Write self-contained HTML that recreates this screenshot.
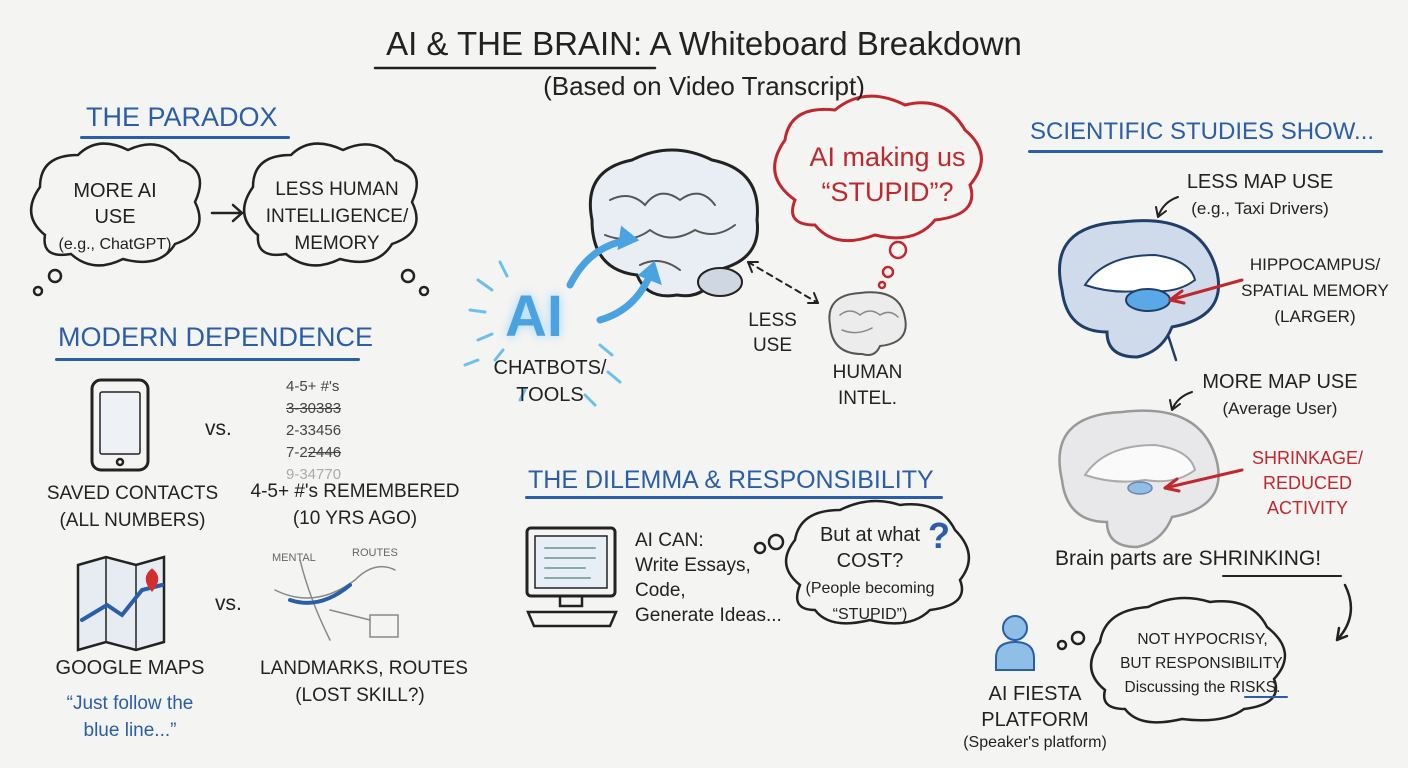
<!DOCTYPE html>
<html><head><meta charset="utf-8"><style>
body{margin:0;width:1408px;height:768px;background:#f4f4f2;overflow:hidden;position:relative;font-family:"Liberation Sans",sans-serif;color:#222}
.t{position:absolute;white-space:nowrap;text-align:center;line-height:1}
.b{color:#2a5ea8}.r{color:#c0282d}
.h{position:absolute;font-size:27px;color:#2a5ea8;white-space:nowrap}
.ul{position:absolute;height:3px;background:#2a5ea8;border-radius:2px}
</style></head><body>
<svg width="1408" height="768" style="position:absolute;left:0;top:0" fill="none" stroke="#222" stroke-width="2.5" stroke-linecap="round">
<line x1="375" y1="68" x2="655" y2="68"/>
<path d="M45 235 q-25 -20 -5 -48 q0 -32 38 -32 q20 -20 50 -5 q32 -15 52 10 q30 10 15 42 q15 30 -20 42 q-15 25 -52 15 q-30 15 -52 -5 q-30 5 -26 -19z"/>
<circle cx="55" cy="276" r="6"/><circle cx="38" cy="291" r="4"/>
<path d="M212 213 h30 m-9 -8 l9 8 l-9 8"/>
<path d="M258 235 q-25 -20 -5 -48 q0 -32 38 -32 q20 -20 52 -5 q32 -15 52 10 q32 10 17 42 q15 30 -20 42 q-15 25 -52 15 q-30 15 -54 -5 q-30 5 -28 -19z"/>
<circle cx="408" cy="276" r="6"/><circle cx="424" cy="291" r="4"/>
<rect x="92" y="380" width="56" height="90" rx="9" stroke-width="3"/>
<rect x="100" y="392" width="40" height="62" rx="2" fill="#eef2f6" stroke-width="1.5"/>
<circle cx="120" cy="462" r="3"/>
<path d="M78 565 l28 -8 l30 8 l28 -8 v85 l-28 8 l-30 -8 l-28 8z" fill="#e7ecf2"/>
<path d="M106 557 v85 M136 565 v85" stroke-width="1.5"/>
<path d="M82 620 l25 -15 l15 10 l20 -25 l20 -5" stroke="#2a5ea8" stroke-width="4"/>
<path d="M152 590 q-10 -12 0 -20 q10 8 0 20z" fill="#d32f2f" stroke="#d32f2f"/>
<path d="M275 590 q40 20 80 -10 q20 -20 40 -10 M300 560 q10 40 30 80 M330 610 l40 10" stroke="#888" stroke-width="1.5"/>
<path d="M290 600 q30 10 60 -15" stroke="#2a5ea8" stroke-width="4"/>
<rect x="370" y="615" width="28" height="22" stroke="#888" stroke-width="1.5"/>
<path d="M592 220 q-10 -50 40 -60 q40 -20 80 0 q50 10 45 60 q5 40 -40 50 q-10 30 -40 25 q-30 5 -40 -20 q-45 -5 -45 -55z" fill="#e9eef4" stroke-width="3"/>
<path d="M610 200 q20 -10 35 5 q15 -20 35 -5 q20 -15 35 5 M605 235 q25 10 45 -5 q20 15 45 0 q20 10 40 -5 M640 265 q20 -10 40 5" stroke="#555" stroke-width="2"/>
<ellipse cx="720" cy="282" rx="22" ry="14" fill="#cfd8e2" stroke-width="2"/>
<path d="M570 285 q20 -40 60 -45" stroke="#4aa3e0" stroke-width="7"/>
<path d="M622 228 l15 12 l-18 8z" fill="#4aa3e0" stroke="#4aa3e0"/>
<path d="M600 320 q35 -10 50 -45" stroke="#4aa3e0" stroke-width="7"/>
<path d="M640 275 l14 -12 l6 20z" fill="#4aa3e0" stroke="#4aa3e0"/>
<g stroke="#6cc0ee" stroke-width="3">
<line x1="470" y1="310" x2="485" y2="312"/><line x1="478" y1="280" x2="492" y2="290"/><line x1="500" y1="262" x2="507" y2="276"/><line x1="478" y1="340" x2="492" y2="334"/><line x1="495" y1="360" x2="503" y2="350"/><line x1="600" y1="345" x2="612" y2="355"/><line x1="608" y1="372" x2="620" y2="382"/><line x1="520" y1="400" x2="525" y2="390"/><line x1="585" y1="395" x2="595" y2="405"/><line x1="465" y1="365" x2="478" y2="360"/>
</g>
<path d="M795 200 q-35 -25 -10 -60 q5 -35 50 -30 q30 -25 70 -5 q40 -10 60 25 q30 25 5 55 q10 30 -35 35 q-20 25 -60 15 q-40 15 -60 -10 q-30 0 -20 -25z" stroke="#c0282d" stroke-width="3"/>
<circle cx="898" cy="250" r="8" stroke="#c0282d"/><circle cx="888" cy="272" r="5" stroke="#c0282d"/><circle cx="882" cy="285" r="3" stroke="#c0282d"/>
<path d="M748 262 L818 303" stroke-dasharray="6 5" stroke-width="2"/>
<path d="M748 262 l4 10 m-4 -10 l10 0 M818 303 l-4 -10 m4 10 l-10 0" stroke-width="2"/>
<path d="M830 325 q-5 -30 30 -32 q40 -5 45 25 q5 25 -25 28 q-5 12 -18 8 q-30 0 -32 -29z" fill="#ececec" stroke="#555" stroke-width="2"/>
<path d="M840 315 q10 -8 20 0 q10 -8 20 0 q10 -6 18 2 M842 330 q15 6 30 -2" stroke="#888" stroke-width="1.5"/>
<rect x="527" y="528" width="88" height="68" rx="4" stroke-width="3"/>
<rect x="535" y="536" width="72" height="52" fill="#e8eef5" stroke-width="1.5"/>
<path d="M545 548 h50 M545 558 h50 M545 568 h40 M545 578 h45" stroke="#8aa" stroke-width="2"/>
<path d="M560 596 v10 h22 v-10 M528 612 h88 l-6 14 h-76z" stroke-width="2.5"/>
<circle cx="760" cy="548" r="5"/><circle cx="776" cy="542" r="7"/>
<path d="M800 585 q-25 -20 -5 -45 q5 -30 45 -30 q30 -15 60 -5 q40 -5 55 25 q25 25 5 50 q10 25 -30 30 q-20 20 -60 10 q-40 10 -55 -10 q-25 0 -15 -25z"/>
<path d="M1062 290 q-15 -65 60 -68 q80 -10 95 50 q10 45 -45 55 q-10 25 -35 30 q-30 0 -30 -25 q-40 0 -45 -42z" fill="#cfdbea" stroke="#1f3f6a" stroke-width="3"/>
<path d="M1085 285 q20 -30 70 -30 q35 5 40 25 q-20 15 -50 10 q-30 5 -60 -5z" fill="#fff" stroke="#1f3f6a" stroke-width="2"/>
<ellipse cx="1148" cy="300" rx="22" ry="11" fill="#5aa9e6" stroke="#1f3f6a" stroke-width="2"/>
<path d="M1168 335 l8 25" stroke="#1f3f6a"/>
<path d="M1242 280 L1170 300" stroke="#c0282d" stroke-width="3"/><path d="M1170 300 l12 -9 m-12 9 l14 3" stroke="#c0282d" stroke-width="3"/>
<path d="M1062 480 q-15 -65 60 -68 q80 -10 95 50 q10 45 -45 55 q-10 25 -35 30 q-30 0 -30 -25 q-40 0 -45 -42z" fill="#e8e8ea" stroke="#999" stroke-width="2.5"/>
<path d="M1085 475 q20 -30 70 -30 q35 5 40 25 q-20 15 -50 10 q-30 5 -60 -5z" fill="#fafafa" stroke="#aaa" stroke-width="2"/>
<ellipse cx="1140" cy="488" rx="12" ry="6" fill="#8fbfe6" stroke="#6b86a6" stroke-width="1.5"/>
<path d="M1242 470 L1165 488" stroke="#c0282d" stroke-width="3"/><path d="M1165 488 l12 -9 m-12 9 l14 3" stroke="#c0282d" stroke-width="3"/>
<path d="M1178 197 q-15 5 -20 20 m0 0 l-2 -10 m2 10 l8 -6" stroke-width="2"/>
<path d="M1192 392 q-15 5 -20 18 m0 0 l-2 -10 m2 10 l8 -6" stroke-width="2"/>
<path d="M1223 576 h118" stroke-width="2"/>
<path d="M1345 585 q15 30 -8 55 m0 0 l2 -12 m-2 12 l10 -4" stroke-width="2.5"/>
<circle cx="1015" cy="628" r="12" fill="#8fbfe6" stroke="#2a5ea8" stroke-width="2"/>
<path d="M996 670 v-12 q0 -16 19 -16 q19 0 19 16 v12z" fill="#8fbfe6" stroke="#2a5ea8" stroke-width="2"/>
<circle cx="1062" cy="645" r="4"/><circle cx="1078" cy="638" r="6"/>
<path d="M1105 690 q-25 -20 -5 -48 q5 -32 48 -35 q30 -15 62 -5 q42 -5 57 25 q32 25 7 52 q10 25 -30 30 q-20 15 -62 10 q-42 10 -57 -10 q-25 0 -20 -19z"/>
<path d="M1245 697 h42" stroke="#2a5ea8" stroke-width="2"/>
</svg>

<div class="t" style="left:0;width:1408px;top:27px;font-size:33px">AI &amp; THE BRAIN: A Whiteboard Breakdown</div>
<div class="t" style="left:0;width:1408px;top:73px;font-size:26px">(Based on Video Transcript)</div>

<div class="h" style="left:86px;top:102px">THE PARADOX</div><div class="ul" style="left:80px;top:136px;width:210px"></div>
<div class="t" style="left:40px;width:150px;top:178px;font-size:20px;line-height:26px">MORE AI<br>USE<br><span style="font-size:16px">(e.g., ChatGPT)</span></div>
<div class="t" style="left:252px;width:170px;top:176px;font-size:19px;line-height:27px">LESS HUMAN<br>INTELLIGENCE/<br>MEMORY</div>

<div class="h" style="left:58px;top:322px">MODERN DEPENDENCE</div><div class="ul" style="left:55px;top:358px;width:305px"></div>
<div class="t" style="left:205px;top:418px;font-size:21px">vs.</div>
<div class="t" style="left:286px;top:376px;font-size:15px;line-height:22px;text-align:left;color:#444">4-5+ #'s<br><s>3-30383</s><br>2-33456<br>7-2<s>2446</s><br><span style="color:#aaa">9-34770</span></div>
<div class="t" style="left:40px;width:185px;top:480px;font-size:19px;line-height:27px">SAVED CONTACTS<br>(ALL NUMBERS)</div>
<div class="t" style="left:240px;width:230px;top:478px;font-size:19px;line-height:27px">4-5+ #'s REMEMBERED<br>(10 YRS AGO)</div>
<div class="t" style="left:215px;top:593px;font-size:21px">vs.</div>
<div class="t" style="left:272px;top:553px;font-size:11px;color:#666">MENTAL</div>
<div class="t" style="left:352px;top:548px;font-size:11px;color:#666">ROUTES</div>
<div class="t" style="left:40px;width:180px;top:658px;font-size:20px">GOOGLE MAPS</div>
<div class="t b" style="left:40px;width:180px;top:690px;font-size:19px;line-height:27px">“Just follow the<br>blue line...”</div>
<div class="t" style="left:260px;width:200px;top:655px;font-size:19px;line-height:27px">LANDMARKS, ROUTES<br>(LOST SKILL?)</div>

<div class="t" style="left:505px;top:288px;font-size:58px;font-weight:bold;color:#4aa3e0;text-shadow:0 0 10px #9fd6f7">AI</div>
<div class="t" style="left:480px;width:140px;top:355px;font-size:20px;line-height:27px">CHATBOTS/<br>TOOLS</div>
<div class="t r" style="left:780px;width:215px;top:140px;font-size:27px;line-height:35px">AI making us<br>“STUPID”?</div>
<div class="t" style="left:745px;width:55px;top:308px;font-size:19px;line-height:25px">LESS<br>USE</div>
<div class="t" style="left:820px;width:95px;top:360px;font-size:19px;line-height:26px">HUMAN<br>INTEL.</div>

<div class="h" style="left:528px;top:466px;font-size:25px">THE DILEMMA &amp; RESPONSIBILITY</div><div class="ul" style="left:525px;top:496px;width:418px"></div>
<div class="t" style="left:635px;top:528px;font-size:19px;line-height:25px;text-align:left">AI CAN:<br>Write Essays,<br>Code,<br>Generate Ideas...</div>
<div class="t" style="left:800px;width:140px;top:522px;font-size:20px;line-height:26px">But at what<br>COST?<br><span style="font-size:16px;line-height:22px">(People becoming<br>“STUPID”)</span></div>
<div class="t b" style="left:928px;top:518px;font-size:36px;font-weight:bold">?</div>

<div class="h" style="left:1030px;top:118px;font-size:24px">SCIENTIFIC STUDIES SHOW...</div><div class="ul" style="left:1028px;top:150px;width:355px"></div>
<div class="t" style="left:1170px;width:180px;top:172px;font-size:20px">LESS MAP USE</div>
<div class="t" style="left:1170px;width:180px;top:200px;font-size:17px">(e.g., Taxi Drivers)</div>
<div class="t" style="left:1235px;width:160px;top:252px;font-size:17px;line-height:26px">HIPPOCAMPUS/<br>SPATIAL MEMORY<br>(LARGER)</div>
<div class="t" style="left:1190px;width:180px;top:372px;font-size:20px">MORE MAP USE</div>
<div class="t" style="left:1190px;width:180px;top:400px;font-size:17px">(Average User)</div>
<div class="t r" style="left:1240px;width:135px;top:446px;font-size:18px;line-height:25px">SHRINKAGE/<br>REDUCED<br>ACTIVITY</div>
<div class="t" style="left:1055px;top:548px;font-size:21px">Brain parts are SHRINKING!</div>
<div class="t" style="left:1110px;width:185px;top:628px;font-size:15.5px;line-height:24px">NOT HYPOCRISY,<br>BUT RESPONSIBILITY.<br>Discussing the RISKS.</div>
<div class="t" style="left:955px;width:160px;top:681px;font-size:20px;line-height:26px">AI FIESTA<br>PLATFORM</div>
<div class="t" style="left:955px;width:160px;top:735px;font-size:16px">(Speaker's platform)</div>
</body></html>
